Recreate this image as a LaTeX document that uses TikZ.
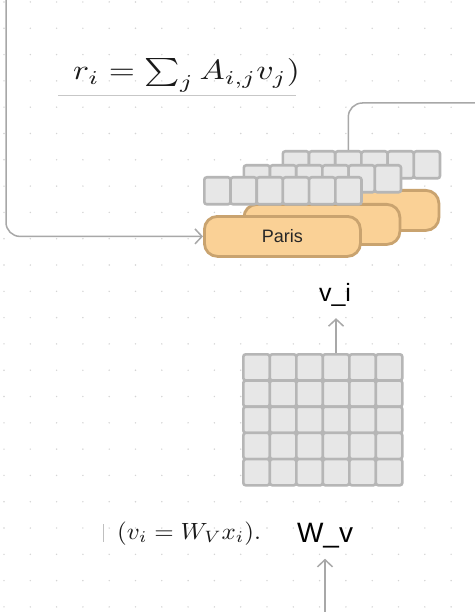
\documentclass[tikz,border=0pt]{standalone}
\usepackage{fontspec}
\usepackage{graphicx}
\newfontfamily\lsans{Liberation Sans}
\usetikzlibrary{arrows.meta}
\definecolor{linegray}{HTML}{A8A8A8}
\definecolor{cellfill}{HTML}{E7E7E7}
\definecolor{celldraw}{HTML}{B6B6B6}
\definecolor{orfill}{HTML}{FAD196}
\definecolor{ordraw}{HTML}{C9A36F}
\definecolor{dotgray}{HTML}{D4D4D4}
\definecolor{mathgray}{HTML}{1A1A1A}
\begin{document}
\begin{tikzpicture}[x=1pt,y=-1pt,
  conn/.style={draw=linegray,line width=1.5pt,rounded corners=14pt},
  arr/.style={-{Straight Barb[length=7pt,width=15pt]}},
  cellbox/.style={draw=celldraw,fill=cellfill,line width=2.6pt,rounded corners=2.5pt,
    minimum width=26.2pt,minimum height=27pt,inner sep=0pt,anchor=north west},
  gridcell/.style={cellbox,minimum width=26.5pt,minimum height=26.2pt},
  tokbox/.style={draw=ordraw,fill=orfill,line width=2.8pt,rounded corners=13pt,
    minimum width=156pt,minimum height=40pt,inner sep=0pt,anchor=north west,
    font=\lsans\fontsize{18}{20}\selectfont,text=black!85},
  lbl/.style={font=\lsans\fontsize{25}{28}\selectfont,text=black,inner sep=0pt,anchor=base},
  mathtxt/.style={inner sep=0pt,anchor=base west,text=mathgray}]
\useasboundingbox (0,0) rectangle (474,612);
\fill[white] (0,0) rectangle (474,612);
% dot grid
\foreach \i in {0,...,18}
  \foreach \j in {0,...,23}
    \fill[dotgray] (4+26.3*\i,2+26.3*\j) circle (0.8pt);
% top formula (clipped)
\begin{scope}
  \clip (0,0) rectangle (296,120);
  \node[mathtxt] (f1) at (73,80) {\scalebox{3.36}[2.8]{$r_i = \sum_j A_{i,j} v_j$).}};
\end{scope}
\draw[draw=black!22,line width=1pt] (58,96) -- (296,96);
% stacked layers: back, middle, front
\foreach \dx/\dy/\nm in {78.5/-26/b, 39.5/-12/m} {
  \node[tokbox] (\nm-tok) at (203+\dx,215+\dy) {};
  \foreach \k in {0,...,5}
    \node[cellbox] (\nm-\k) at (203+\dx+26.2*\k,176+\dy) {};
}
\node[tokbox] (paris) at (203,215) {Paris};
\foreach \k in {0,...,5}
  \node[cellbox] (f-\k) at (203+26.2*\k,176) {};
% connectors into / out of the stack
\coordinate (lstart) at (6,-5);
\draw[conn,arr] (lstart) |- (paris.west);
\coordinate (rstart) at (480,103);
\draw[conn] (rstart) -| (b-2.north);
% big grid
\foreach \i in {0,...,5}
  \foreach \j in {0,...,4}
    \node[gridcell] (g-\i-\j) at (242+26.5*\i,353+26.2*\j) {};
% labels
\node[lbl] (vi) at (335,301) {v\_i};
\draw[conn,arr,shorten >=12pt] (g-3-0.north) -- (g-3-0.north |- vi.south);
\node[lbl,font=\lsans\fontsize{28}{30}\selectfont] (wv) at (325,542) {W\_v};
\coordinate (wstart) at (325,615);
\draw[conn,arr,shorten >=11pt] (wstart) -- (wstart |- wv.south);
% bottom formula
\draw[draw=black!25,line width=1pt] (103,524) -- (103,542);
\node[mathtxt] (f2) at (117,539) {\scalebox{2.5}[2.35]{$(v_i = W_V x_i)$.}};
\end{tikzpicture}
\end{document}
